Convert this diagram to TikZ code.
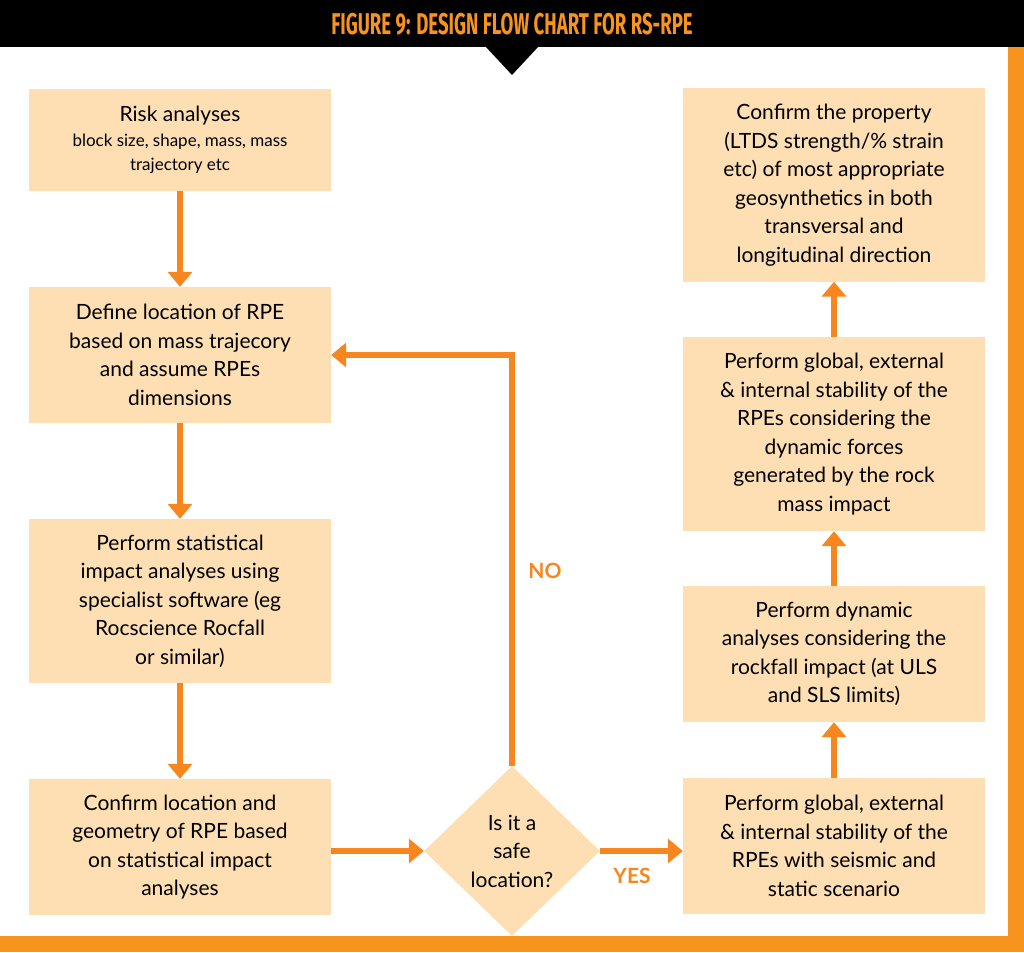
\documentclass[tikz,border=0pt]{standalone}
\usepackage{fontspec}
\setmainfont{Lato}
\newfontfamily\titlefont{Fira Sans}
\usetikzlibrary{shapes.geometric,arrows.meta}
\definecolor{boxfill}{HTML}{FDDFB3}
\definecolor{flow}{HTML}{F7861E}
\definecolor{band}{HTML}{F7941D}
\tikzset{
  stage/.style={fill=boxfill, minimum width=302pt, align=center, inner sep=0pt,
    font=\fontsize{21}{28.5}\selectfont},
  flowline/.style={line width=6pt, flow, -{Triangle[length=15pt,width=24pt]}},
  answer/.style={flow, font=\fontsize{21}{24}\selectfont\bfseries},
}
\begin{document}
\begin{tikzpicture}[x=1pt,y=-1pt]
\useasboundingbox (0,0) rectangle (1024,952);

% banner and frame
\fill[black] (0,0) rectangle (1024,47);
\fill[black] (485,46) -- (539,46) -- (512,75) -- cycle;
\node[band, font=\titlefont\bfseries\fontsize{30}{30}\selectfont, xscale=0.62] (title) at (512,24) {FIGURE 9: DESIGN FLOW CHART FOR RS-RPE};
\fill[band] (1008,47) rectangle (1024,952);
\fill[band] (0,936) rectangle (1024,952);

% left column
\node[stage, minimum height=102pt] (risk) at (180,140) {Risk analyses\\[-4pt]{\fontsize{17}{24}\selectfont block size, shape, mass, mass}\\[-4pt]{\fontsize{17}{24}\selectfont trajectory etc}};
\node[stage, minimum height=136pt] (define) at (180,355) {Define location of RPE\\based on mass trajecory\\and assume RPEs\\dimensions};
\node[stage, minimum height=164pt] (stat) at (180,601) {Perform statistical\\impact analyses using\\specialist software (eg\\Rocscience Rocfall\\or similar)};
\node[stage, minimum height=136pt] (confirm) at (180,847) {Confirm location and\\geometry of RPE based\\on statistical impact\\analyses};

% decision
\node[diamond, fill=boxfill, minimum width=176pt, minimum height=170pt, inner sep=0pt, align=center,
  font=\fontsize{21}{28.5}\selectfont] (safe) at (512,851) {Is it a\\safe\\location?};

% right column
\node[stage, minimum height=136pt] (seismic) at (834,846) {Perform global, external\\\& internal stability of the\\RPEs with seismic and\\static scenario};
\node[stage, minimum height=136pt] (dynamic) at (834,654) {Perform dynamic\\analyses considering the\\rockfall impact (at ULS\\and SLS limits)};
\node[stage, minimum height=194pt] (global) at (834,434) {Perform global, external\\\& internal stability of the\\RPEs considering the\\dynamic forces\\generated by the rock\\mass impact};
\node[stage, minimum height=193pt] (property) at (834,185) {Confirm the property\\(LTDS strength/\% strain\\etc) of most appropriate\\geosynthetics in both\\transversal and\\longitudinal direction};

% connectors
\draw[flowline] (risk) -- (define);
\draw[flowline] (define) -- (stat);
\draw[flowline] (stat) -- (confirm);
\draw[flowline] (confirm.east |- safe) -- (safe.west);
\draw[flowline] (safe.east) -- (seismic.west |- safe);
\draw[flowline] (safe.north) |- (define.east);
\draw[flowline] (seismic) -- (dynamic);
\draw[flowline] (dynamic) -- (global);
\draw[flowline] (global) -- (property);

\node[answer] (no) at (545,571) {NO};
\node[answer] (yes) at (632,876) {YES};
\end{tikzpicture}
\end{document}
